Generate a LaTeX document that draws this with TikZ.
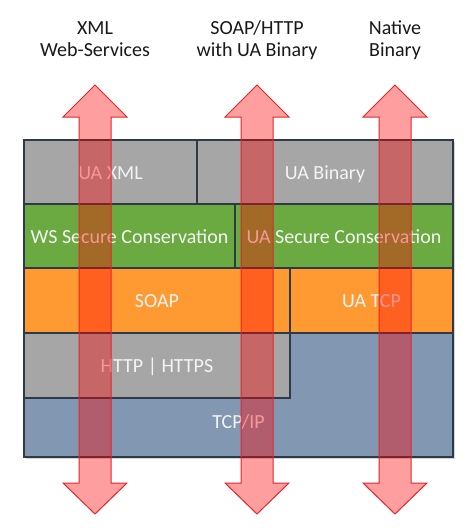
\documentclass[tikz,border=0pt]{standalone}
\usepackage{fontspec}
\setmainfont{Carlito}
\usetikzlibrary{shadows}
\definecolor{boxgray}{HTML}{A6A6A6}
\definecolor{boxgreen}{HTML}{6BAA40}
\definecolor{boxorange}{HTML}{FF9A33}
\definecolor{boxblue}{HTML}{8297B2}
\definecolor{frameline}{HTML}{2E3A48}
\definecolor{arrowred}{HTML}{FF0000}
\definecolor{arrowline}{HTML}{E3262B}
\definecolor{lbltext}{HTML}{F4F4F4}
\begin{document}
\begin{tikzpicture}[x=1pt,y=-1pt,
  layer/.style={draw=frameline, line width=1.5pt, inner sep=0pt, outer sep=0pt,
    anchor=north west, text=lbltext, text depth=0pt, text height=14pt,
    font=\fontsize{20}{23}\selectfont},
  toplbl/.style={align=center, anchor=base, font=\fontsize{20}{22.5}\selectfont, text=black!90},
  flow/.style={fill=arrowred, fill opacity=0.38, draw=arrowline, line width=1pt, line join=miter}]
\useasboundingbox (0,0) rectangle (474,530);
% frame (TCP/IP background)
\node[layer, fill=boxblue, minimum width=429pt, minimum height=317pt,
  drop shadow={shadow xshift=2pt, shadow yshift=-2pt, opacity=0.35}] (frame) at (24,140) {};
\node[text=lbltext, font=\fontsize{20}{23}\selectfont, anchor=base] (tcpip) at (238.5,428) {TCP/IP};
% layers
\node[layer, fill=boxgray, minimum width=173pt, minimum height=64pt] (uaxml) at (24,140) {UA XML};
\node[layer, fill=boxgray, minimum width=256pt, minimum height=64pt] (uabin) at (197,140) {UA Binary};
\node[layer, fill=boxgreen, minimum width=211pt, minimum height=64pt] (wssc) at (24,204) {WS Secure Conservation};
\node[layer, fill=boxgreen, minimum width=218pt, minimum height=64pt] (uasc) at (235,204) {UA Secure Conservation};
\node[layer, fill=boxorange, minimum width=266pt, minimum height=65pt] (soap) at (24,268) {SOAP};
\node[layer, fill=boxorange, minimum width=163pt, minimum height=65pt] (uatcp) at (290,268) {UA TCP};
\node[layer, fill=boxgray, minimum width=266pt, minimum height=65pt] (http) at (24,333) {HTTP | HTTPS};
% top labels
\node[toplbl] (l1) at (95,56.7) {XML\\Web-Services};
\node[toplbl] (l2) at (257,56.7) {SOAP/HTTP\\with UA Binary};
\node[toplbl] (l3) at (395,56.7) {Native\\Binary};
% arrows
\foreach \cx in {95,257,395}{
  \path[flow] (\cx,85) -- (\cx+32,117) -- (\cx+16,117) -- (\cx+16,483) -- (\cx+32,483)
    -- (\cx,514) -- (\cx-32,483) -- (\cx-16,483) -- (\cx-16,117) -- (\cx-32,117) -- cycle;
}
\end{tikzpicture}
\end{document}
